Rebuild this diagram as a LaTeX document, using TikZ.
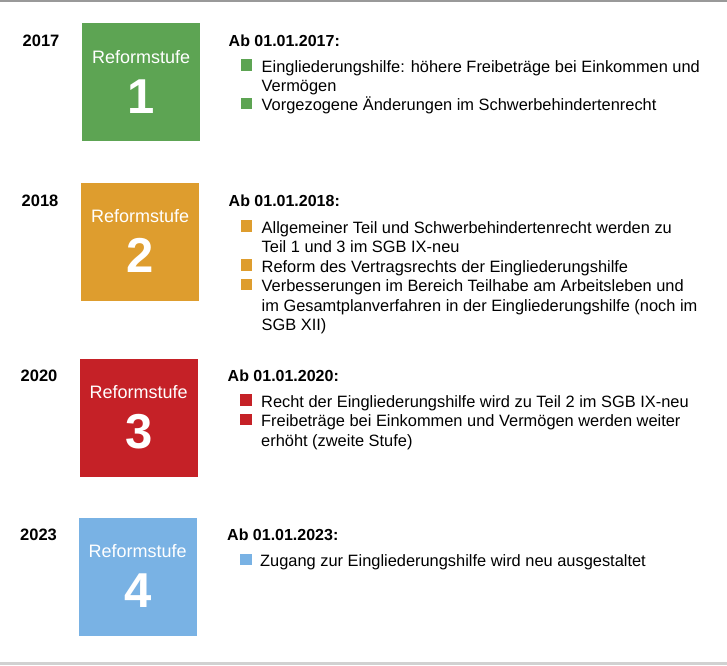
\documentclass[tikz,border=0pt]{standalone}
\usepackage{fontspec}
\setmainfont{Liberation Sans}
\usepackage{xcolor}
\usepackage{tikz}
\usetikzlibrary{positioning}

\definecolor{gruen}{HTML}{5DA453}
\definecolor{orange}{HTML}{DE9D2E}
\definecolor{rot}{HTML}{C52127}
\definecolor{blau}{HTML}{79B2E4}

\begin{document}
\begin{tikzpicture}[x=1pt, y=-1pt,
    jahr/.style={anchor=base west, inner sep=0pt, font=\fontsize{16.5}{19}\selectfont\bfseries},
    kopf/.style={anchor=base west, inner sep=0pt, font=\fontsize{16}{19}\selectfont\bfseries},
    punkt/.style={anchor=base west, inner sep=0pt, align=left, font=\fontsize{16.4}{19.5}\selectfont},
    marke/.style={anchor=south west, inner sep=0pt, minimum size=11.7pt},
    stufe/.style={anchor=north west, inner sep=0pt, minimum size=118pt},
    stufetext/.style={anchor=base, inner sep=0pt, white, font=\fontsize{18}{20}\selectfont},
    stufenr/.style={anchor=base, inner sep=0pt, white, font=\fontsize{49}{50}\selectfont\bfseries}]
    \useasboundingbox (0,0) rectangle (727,665);
    \draw [line width=1.5pt, black!40] (0,0.75) -- (727,0.75);
    \draw [line width=2.5pt, black!18] (0,663.7) -- (727,663.7);

    % Reformstufe 1
    \node [jahr] (j1) at (22.5,46) {2017};
    \node [stufe, fill=gruen] (s1) at (82,23) {};
    \node [stufetext] (r1) at ([yshift=-40pt]s1.north) {Reformstufe};
    \node [stufenr] (n1) at ([yshift=-90pt]s1.north) {1};
    \node [kopf] (k1) at (228.5,46) {Ab 01.01.2017:};
    % mehrzeilige Punkte: Basislinie der letzten Zeile
    \node [punkt] (p11) at (261.5,91.5) {Eingliederungshilfe: höhere Freibeträge bei Einkommen und\\Vermögen};
    \node [punkt] (p12) at (261.5,110.5) {Vorgezogene Änderungen im Schwerbehindertenrecht};
    \node [marke, fill=gruen] (m11) at (240.5,71) {};
    \node [marke, fill=gruen] (m12) at (240.5,109.5) {};

    % Reformstufe 2
    \node [jahr] (j2) at (21.5,206) {2018};
    \node [stufe, fill=orange] (s2) at (81,182.5) {};
    \node [stufetext] (r2) at ([yshift=-40pt]s2.north) {Reformstufe};
    \node [stufenr] (n2) at ([yshift=-90pt]s2.north) {2};
    \node [kopf] (k2) at (228.5,206) {Ab 01.01.2018:};
    \node [punkt] (p21) at (261.5,252.5) {Allgemeiner Teil und Schwerbehindertenrecht werden zu\\Teil 1 und 3 im SGB IX-neu};
    \node [punkt] (p22) at (261.5,272) {Reform des Vertragsrechts der Eingliederungshilfe};
    \node [punkt] (p23) at (261.5,330.5) {Verbesserungen im Bereich Teilhabe am Arbeitsleben und\\im Gesamtplanverfahren in der Eingliederungshilfe (noch im\\SGB XII)};
    \node [marke, fill=orange] (m21) at (240.5,232) {};
    \node [marke, fill=orange] (m22) at (240.5,271) {};
    \node [marke, fill=orange] (m23) at (240.5,290.5) {};

    % Reformstufe 3
    \node [jahr] (j3) at (20.5,381) {2020};
    \node [stufe, fill=rot] (s3) at (79.5,358.5) {};
    \node [stufetext] (r3) at ([yshift=-40pt]s3.north) {Reformstufe};
    \node [stufenr] (n3) at ([yshift=-90pt]s3.north) {3};
    \node [kopf] (k3) at (227.5,381.5) {Ab 01.01.2020:};
    \node [punkt] (p31) at (261,407) {Recht der Eingliederungshilfe wird zu Teil 2 im SGB IX-neu};
    \node [punkt] (p32) at (261,446) {Freibeträge bei Einkommen und Vermögen werden weiter\\erhöht (zweite Stufe)};
    \node [marke, fill=rot] (m31) at (240,406) {};
    \node [marke, fill=rot] (m32) at (240,425.5) {};

    % Reformstufe 4
    \node [jahr] (j4) at (20,540) {2023};
    \node [stufe, fill=blau] (s4) at (78.5,517.5) {};
    \node [stufetext] (r4) at ([yshift=-40pt]s4.north) {Reformstufe};
    \node [stufenr] (n4) at ([yshift=-90pt]s4.north) {4};
    \node [kopf] (k4) at (227,540) {Ab 01.01.2023:};
    \node [punkt] (p41) at (260,566.5) {Zugang zur Eingliederungshilfe wird neu ausgestaltet};
    \node [marke, fill=blau] (m41) at (240,565.5) {};
\end{tikzpicture}
\end{document}
